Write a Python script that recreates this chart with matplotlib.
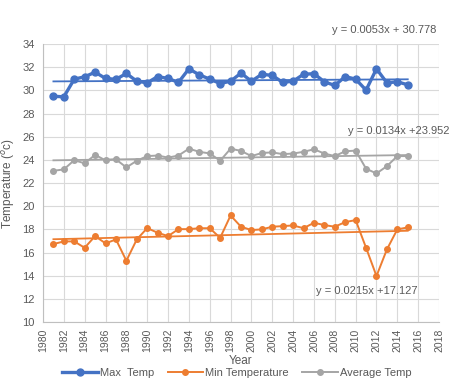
import matplotlib
matplotlib.use("Agg")
import matplotlib.pyplot as plt
import numpy as np

# Data
years = list(range(1981, 2016))
max_temp = [29.5, 29.45, 30.98, 31.18, 31.58, 31.04, 30.96, 31.47, 30.8, 30.66,
            31.2, 31.04, 30.7, 31.87, 31.35, 30.98, 30.6, 30.8, 31.5, 30.8,
            31.4, 31.3, 30.7, 30.8, 31.4, 31.45, 30.75, 30.43, 31.2, 30.98,
            30.03, 31.87, 30.66, 30.75, 30.49]
min_temp = [16.73, 16.96, 16.96, 16.41, 17.42, 16.79, 17.13, 15.29, 17.13, 18.11,
            17.71, 17.42, 18.02, 18.02, 18.1, 18.1, 17.27, 19.2, 18.23, 17.94,
            18.0, 18.23, 18.28, 18.34, 18.1, 18.57, 18.37, 18.23, 18.63, 18.8,
            16.41, 13.97, 16.27, 18.0, 18.17]
avg_temp = [23.06, 23.18, 23.98, 23.7, 24.44, 23.96, 24.05, 23.35, 23.93, 24.33,
            24.38, 24.2, 24.38, 24.97, 24.7, 24.56, 23.93, 24.97, 24.78, 24.33,
            24.6, 24.65, 24.5, 24.55, 24.7, 24.92, 24.55, 24.33, 24.75, 24.8,
            23.24, 22.83, 23.46, 24.33, 24.33]

# trend equations shown on the chart (x = point index starting at 1)
trends = {
    "max": (0.0053, 30.778),
    "avg": (0.0134, 23.952),
    "min": (0.0215, 17.127),
}

BLUE = "#4472C4"
ORANGE = "#ED7D31"
GRAY = "#A5A5A5"
TXT = "#595959"

plt.rcParams["font.family"] = ["Liberation Sans", "DejaVu Sans"]
plt.rcParams["font.size"] = 8

fig = plt.figure(figsize=(4.74, 3.84), dpi=100)
ax = fig.add_axes([0.0907, 0.1615, 0.8355, 0.7235])

idx = np.arange(1, len(years) + 1)
yrs = np.array(years)

ax.plot(yrs, max_temp, color=BLUE, lw=2.4, marker="o", ms=5, label="Max  Temp", zorder=4)
ax.plot(yrs, min_temp, color=ORANGE, lw=1.4, marker="o", ms=4, label="Min Temperature", zorder=4)
ax.plot(yrs, avg_temp, color=GRAY, lw=1.4, marker="o", ms=4, label="Average Temp", zorder=4)

for key, col in [("max", BLUE), ("min", ORANGE), ("avg", GRAY)]:
    m, b = trends[key]
    ax.plot(yrs, m * idx + b, color=col, lw=1.3, zorder=3)

ax.set_xlim(1980, 2018)
ax.set_ylim(10, 34)
ax.set_xticks(range(1980, 2019, 2))
ax.set_yticks(range(10, 35, 2))
ax.tick_params(axis="x", labelrotation=90, colors=TXT, length=0, pad=5, labelsize=7.5)
ax.tick_params(axis="y", colors=TXT, length=0, pad=6, labelsize=8)
ax.grid(True, color="#D9D9D9", lw=0.8)
ax.set_axisbelow(True)
for s in ["top", "right"]:
    ax.spines[s].set_visible(False)
ax.spines["left"].set_color("#BFBFBF")
ax.spines["bottom"].set_color("#BFBFBF")

ax.set_xlabel("Year", color=TXT, fontsize=8.5, labelpad=2)
ax.set_ylabel("Temperature ($^{o}$c)", color=TXT, fontsize=8.5, labelpad=4)

fig.text(0.70, 0.915, "y = 0.0053x + 30.778", color=TXT, fontsize=8)
fig.text(0.735, 0.65, "y = 0.0134x +23.952", color=TXT, fontsize=8)
fig.text(0.667, 0.235, "y = 0.0215x +17.127", color=TXT, fontsize=8)

fig.legend(loc="lower center", bbox_to_anchor=(0.5, -0.01), ncol=3, frameon=False,
           fontsize=8, labelcolor=TXT, handlelength=3.2, columnspacing=1.2, handletextpad=0.2)

fig.savefig("out.png", dpi=100)
